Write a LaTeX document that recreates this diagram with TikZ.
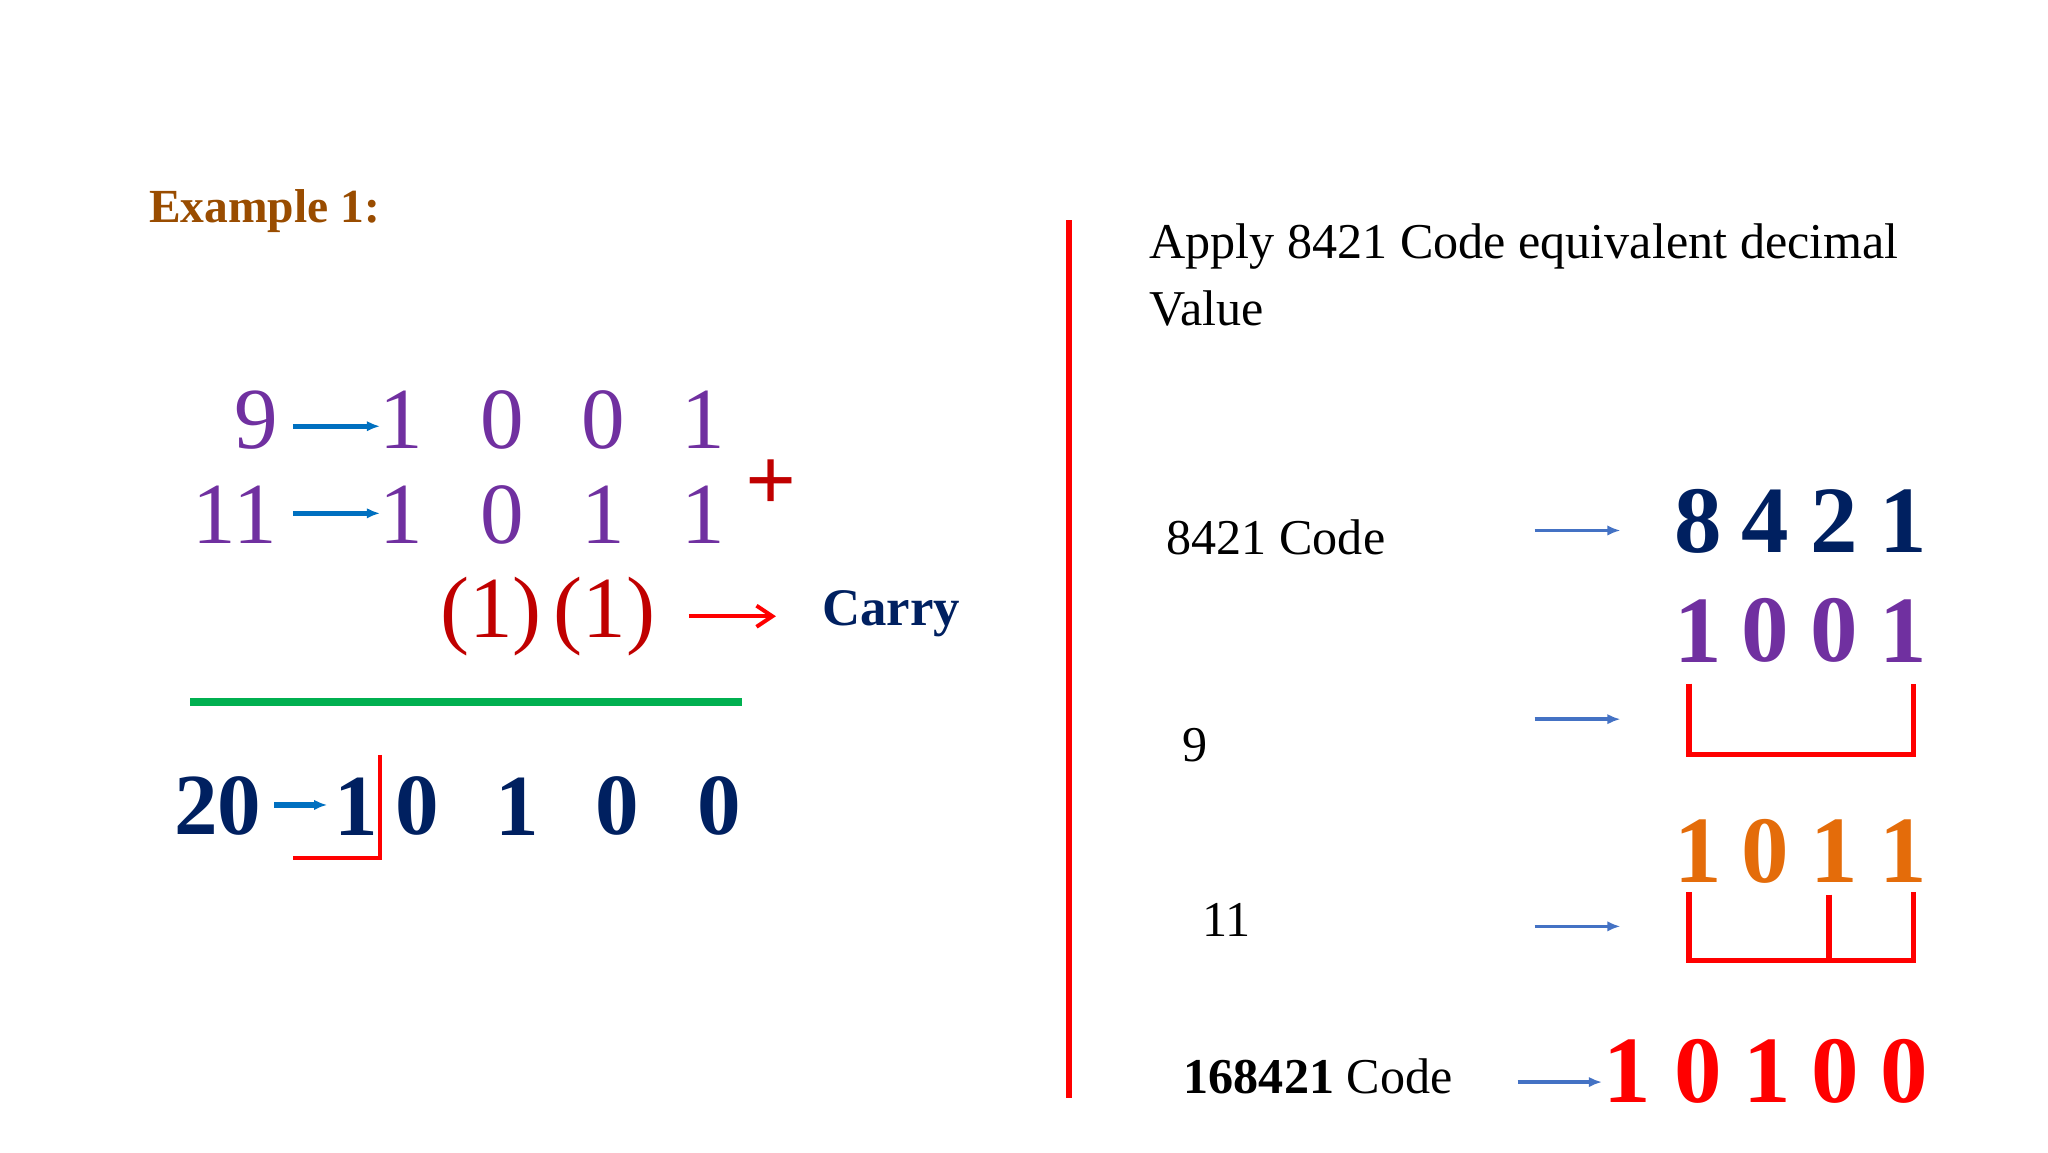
\documentclass[tikz,border=0pt]{standalone}
\usepackage{fontspec}
\setmainfont{Liberation Serif}
\usetikzlibrary{arrows.meta}
\definecolor{purp}{RGB}{112,48,160}
\definecolor{barr}{RGB}{0,112,192}
\definecolor{dred}{RGB}{192,0,0}
\definecolor{navy}{RGB}{0,32,96}
\definecolor{grn}{RGB}{0,176,80}
\definecolor{orng}{RGB}{228,108,10}
\definecolor{sblue}{RGB}{68,114,196}
\definecolor{brwn}{RGB}{153,76,0}
\begin{document}
\begin{tikzpicture}[x=0.5pt,y=-0.5pt,
  big/.style={font=\fontsize{33}{36}\selectfont},
  bigb/.style={font=\fontsize{33}{36}\selectfont\bfseries},
  hugeb/.style={font=\fontsize{36}{40}\selectfont\bfseries},
  txt/.style={font=\fontsize{19}{22}\selectfont,anchor=west},
  barrow/.style={-{Latex[length=5pt,width=4pt]},barr,line width=2pt},
  sarrow/.style={-{Latex[length=5pt,width=4pt]},sblue,line width=1.3pt},
  rarrow/.style={-{Straight Barb[length=6pt,width=8pt]},red,line width=1.5pt},
  brk/.style={red,line width=2pt}]
\useasboundingbox (0,0) rectangle (1552,873);
\node[anchor=west,brwn,font=\fontsize{18}{22}\selectfont\bfseries] (ex) at (106,160) {Example 1:};
% row 1
\node[big,purp] (n9) at (194,318) {9};
\foreach \x/\d [count=\i] in {304/1,381/0,457/0,533/1} \node[big,purp] (a\i) at (\x,318) {\d};
\coordinate (a0) at (222,323);
\draw[barrow] (a0) -- (288,323);
% row 2
\node[big,purp] (n11) at (178,390) {11};
\foreach \x/\d [count=\i] in {304/1,381/0,457/1,533/1} \node[big,purp] (b\i) at (\x,390) {\d};
\coordinate (b0) at (222,389);
\draw[barrow] (b0) -- (288,389);
\node[dred,font=\fontsize{34}{36}\selectfont\bfseries] (plus) at (584,368) {+};
% carry
\node[big,dred] (c1) at (372,467) {(1)};
\node[big,dred] (c2) at (458,467) {(1)};
\node[anchor=west,navy,font=\fontsize{20}{24}\selectfont\bfseries] (carry) at (616,465) {Carry};
\coordinate (r0) at (522,467);
\draw[rarrow] (r0) -- (588,467);
\draw[grn,line width=3pt] (144,532) -- (562,532);
% result
\node[bigb,navy] (n20) at (165,611) {20};
\foreach \x/\d [count=\i] in {270/1,316/0,392/1,468/0,545/0} \node[bigb,navy] (s\i) at (\x,611) {\d};
\coordinate (s0) at (208,610);
\draw[barrow] (s0) -- (248,610);
\draw[brk,line width=1.5pt] (288,572) -- (288,650) -- (222,650);
% divider
\draw[red,line width=2pt] (810,167) -- (810,832);
% right
\node[txt] (t1) at (864,187) {Apply 8421 Code equivalent decimal};
\node[txt] (t2) at (864,234) {Value};
\node[txt] (l1) at (877,407) {8421 Code};
\node[txt] (l2) at (889,565) {9};
\node[txt] (l3) at (904,697) {11};
\node[txt] (l4) at (890,816) {\textbf{168421} Code};
\foreach \y in {402,545,702} \draw[sarrow] (1163,\y) -- (1228,\y);
\draw[sarrow] (1150,820) -- (1214,820);
\foreach \x/\d [count=\i] in {1287/8,1338/4,1390/2,1442/1} \node[hugeb,navy] (w\i) at (\x,395) {\d};
\foreach \x/\d [count=\i] in {1287/1,1338/0,1390/0,1442/1} \node[hugeb,purp] (p\i) at (\x,478) {\d};
\foreach \x/\d [count=\i] in {1287/1,1338/0,1390/1,1442/1} \node[hugeb,orng] (o\i) at (\x,645) {\d};
\foreach \x/\d [count=\i] in {1233/1,1287/0,1339/1,1391/0,1443/0} \node[hugeb,red] (f\i) at (\x,812) {\d};
\draw[brk] (1280,518) -- (1280,572) -- (1450,572) -- (1450,518);
\draw[brk] (1280,676) -- (1280,728) -- (1450,728) -- (1450,676);
\draw[brk] (1386,678) -- (1386,728);
\end{tikzpicture}
\end{document}
